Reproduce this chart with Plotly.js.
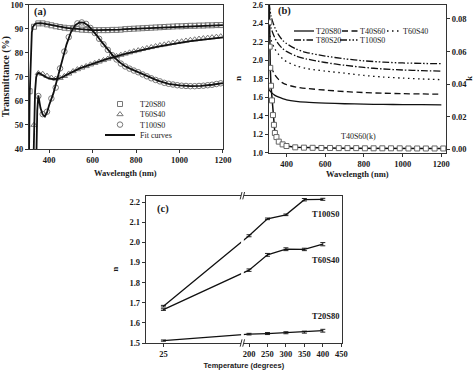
<!DOCTYPE html>
<html><head><meta charset="utf-8">
<script src="https://cdn.plot.ly/plotly-3.0.1.min.js"></script>
<style>html,body{margin:0;padding:0;background:#fff}#chart{width:474px;height:370px}</style>
</head><body><div id="chart"></div>
<script>
// ---------- Panel (a): transmittance ----------
const wlMarkers = [310,330,350,370,390,410,430,450,470,490,510,530,550,570,590,610,630,650,670,690,710,730,750,770,790,810,830,850,870,890,910,930,950,970,990,1010,1030,1050,1070,1090,1110,1130,1150,1170,1190];
const markT20S80 = [64,90.8,92.2,92.2,91.8,91.4,91.0,90.7,90.4,90.2,90.0,89.8,89.6,89.5,89.4,89.4,89.4,89.4,89.4,89.5,89.5,89.6,89.8,89.9,90.0,90.1,90.2,90.3,90.4,90.5,90.6,90.7,90.8,90.9,91.0,91.0,91.1,91.2,91.2,91.3,91.3,91.4,91.4,91.5,91.5];
const markT60S40 = [null,50,71.5,71.2,70.4,69.6,69.2,69.5,70.3,71.3,72.3,73.1,73.8,74.4,75.1,75.7,76.3,76.9,77.5,78.1,78.6,79.1,79.6,80.1,80.6,81.0,81.5,81.9,82.3,82.7,83.1,83.4,83.8,84.1,84.4,84.7,85.0,85.3,85.5,85.8,86.0,86.2,86.4,86.6,86.8];
const markT100S0 = [null,null,62,54.5,55.5,61,65.5,73.5,80.5,86.5,90.3,92.2,92.6,92.0,90.3,88.2,85.8,83.5,81.2,79.0,77.2,75.5,74.3,73.4,72.6,71.9,71.0,70.2,69.4,68.7,68.1,67.5,67.1,66.8,66.5,66.3,66.2,66.1,66.1,66.2,66.3,66.5,66.7,67.0,67.3];

const fitWl = [300,305,310,315,320,325,330,335,340,345,350,355,360,370,380,390,400,420,440,460,480,500,520,540,560,580,600,620,640,660,680,700,725,750,775,800,850,900,950,1000,1050,1100,1150,1200];
const fitT20S80 = [0,20,62,82,88.5,90.8,91.6,92.0,92.2,92.3,92.3,92.3,92.3,92.2,92.0,91.8,91.6,91.2,90.9,90.6,90.3,90.1,89.9,89.7,89.6,89.5,89.4,89.4,89.4,89.4,89.5,89.5,89.6,89.8,89.9,90.0,90.3,90.5,90.8,91.0,91.2,91.3,91.4,91.5];
const fitT60S40 = [0,0,0,0,5,22,48,64,69.8,71.3,71.7,71.6,71.3,70.7,70.1,69.6,69.3,69.0,69.2,69.8,70.8,71.8,72.7,73.5,74.1,74.8,75.4,76.0,76.6,77.2,77.8,78.3,78.9,79.5,80.1,80.6,81.6,82.5,83.4,84.1,84.8,85.4,85.9,86.4];
const fitT100S0 = [0,0,0,0,0,0,0,8,35,56,62.3,59.5,57,54.3,53.5,55.2,58.3,63.3,69.8,77.0,83.5,88.5,91.5,92.6,92.5,91.3,89.4,87.1,84.7,82.4,80.1,78.1,76.0,74.4,73.3,72.3,70.2,68.4,67.1,66.4,66.1,66.2,66.7,67.4];
const ticksA_x = [400,600,800,1000,1200];
const ticksA_y = [40,50,60,70,80,90,100];

// ---------- Panel (b): n and k ----------
const nWl = [309,320,340,360,380,400,450,500,600,700,800,900,1000,1100,1200];
const nT20S80 = [1.685,1.655,1.62,1.60,1.585,1.572,1.555,1.546,1.536,1.529,1.525,1.522,1.520,1.519,1.518];
const nT40S60 = [null,1.93,1.84,1.79,1.755,1.735,1.71,1.695,1.677,1.661,1.650,1.643,1.638,1.635,1.632];
const nT60S40 = [2.32,2.22,2.12,2.06,2.015,1.985,1.94,1.912,1.882,1.86,1.835,1.818,1.806,1.797,1.79];
const nT80S20 = [2.45,2.35,2.24,2.17,2.125,2.095,2.045,2.015,1.975,1.945,1.922,1.905,1.894,1.887,1.882];
const nT100S0 = [2.62,2.48,2.35,2.27,2.215,2.18,2.12,2.085,2.045,2.015,1.993,1.979,1.970,1.965,1.962];

const kWl = [308,311,313,316,320,325,330,335,340,348,360,380,400,445,490,535,580,625,670,715,760,805,850,895,940,985,1030,1075,1120,1165,1210];
const kT40S60 = [0.12,0.078,0.063,0.050,0.039,0.030,0.021,0.015,0.010,0.0075,0.0047,0.0030,0.0020,0.0012,0.0010,0.0009,0.0008,0.0008,0.0007,0.0007,0.0007,0.0006,0.0006,0.0006,0.0006,0.0006,0.0005,0.0005,0.0005,0.0005,0.0005];
const ticksB_n = [1.0,1.2,1.4,1.6,1.8,2.0,2.2,2.4,2.6];
const ticksB_k = [0,0.02,0.04,0.06,0.08];

// ---------- Panel (c): n vs temperature ----------
const temps = [25,200,250,300,350,400];
const tempTicks = [25,200,250,300,350,400,450];
const cT100S0 = [1.683,2.033,2.117,2.137,2.212,2.214];
const cT60S40 = [1.666,1.862,1.938,1.966,1.965,1.991];
const cT20S80 = [1.512,1.544,1.547,1.551,1.554,1.561];
const eT100S0 = [0.004,0.005,0.004,0.004,0.006,0.005];
const eT60S40 = [0.004,0.006,0.007,0.007,0.006,0.008];
const eT20S80 = [0.003,0.004,0.005,0.005,0.005,0.007];
const ticksC_n = [1.5,1.6,1.7,1.8,1.9,2.0,2.1,2.2];

// broken temperature axis: values below the break are shifted left
const breakAt = 181;
const brokenShift = 57;
function toBroken(t){ return t < breakAt ? t - brokenShift : t; }

// ---------- helpers ----------
const px = v => v / 474;
const py = v => 1 - v / 370;
const serif = 'Liberation Serif';
const ink = '#1a1a1a';
const lineCol = '#333';
function ax(extra){
  return Object.assign({showline:true, mirror:true, linecolor:lineCol, linewidth:1,
    ticks:'outside', ticklen:3, tickwidth:1, tickcolor:lineCol, showgrid:false, zeroline:false,
    ticklabeloverflow:'allow',
    tickfont:{family:serif, size:8.5, weight:'bold', color:ink}}, extra);
}
const titleFont = (s) => ({family:serif, size:s, weight:'bold', color:ink});

const traces = [];
// (a) data markers
traces.push({x:wlMarkers, y:markT20S80, type:'scatter', mode:'markers', name:'T20S80', legend:'legend',
  marker:{symbol:'square-open', size:5, color:'#777', line:{width:1}}, xaxis:'x', yaxis:'y'});
traces.push({x:wlMarkers, y:markT60S40, type:'scatter', mode:'markers', name:'T60S40', legend:'legend2',
  marker:{symbol:'triangle-up-open', size:5.5, color:'#777', line:{width:1}}, xaxis:'x', yaxis:'y'});
traces.push({x:wlMarkers, y:markT100S0, type:'scatter', mode:'markers', name:'T100S0', legend:'legend3',
  marker:{symbol:'circle-open', size:5.5, color:'#777', line:{width:1}}, xaxis:'x', yaxis:'y'});
// (a) fit curves
[fitT20S80, fitT60S40, fitT100S0].forEach((arr,i)=>{
  traces.push({x:fitWl, y:arr, type:'scatter', mode:'lines', name:'Fit curves', legend:'legend4',
    legendgroup:'fit', showlegend:i===0, line:{color:'#111', width:1.8}, xaxis:'x', yaxis:'y'});
});
// (b) refractive index curves
const nSeries = [
  ['T20S80', nT20S80, 'solid'],
  ['T40S60', nT40S60, '6px,3.5px'],
  ['T60S40', nT60S40, '1.5px,3.5px'],
  ['T80S20', nT80S20, '7px,2px,1.5px,2px'],
  ['T100S0', nT100S0, '7px,2px,1.5px,2px,1.5px,2px']
];
nSeries.forEach(s=>{
  traces.push({x:nWl, y:s[1], type:'scatter', mode:'lines', name:s[0], showlegend:false,
    line:{color:'#111', width:1.3, dash:s[2], shape:'spline', smoothing:0.8}, xaxis:'x2', yaxis:'y2'});
});
// (b) extinction coefficient
traces.push({x:kWl, y:kT40S60, type:'scatter', mode:'lines+markers', name:'T40S60(k)', showlegend:false,
  line:{color:'#111', width:1.5}, marker:{symbol:'square', size:5, color:'#fff', line:{color:'#666', width:1}},
  xaxis:'x2', yaxis:'y3'});
// (c)
[[cT100S0,eT100S0,'T100S0'],[cT60S40,eT60S40,'T60S40'],[cT20S80,eT20S80,'T20S80']].forEach(s=>{
  traces.push({x:temps.map(toBroken), y:s[0], type:'scatter', mode:'lines', name:s[2], showlegend:false,
    line:{color:'#111', width:1.3},
    error_y:{type:'data', array:s[1], visible:true, color:'#222', thickness:1, width:2.5},
    xaxis:'x3', yaxis:'y4'});
});

function oneLegend(yPix){
  return {x:px(100), y:py(yPix), xanchor:'left', yanchor:'middle', bgcolor:'rgba(0,0,0,0)',
    borderwidth:0, itemwidth:30, font:{family:serif, size:8, color:ink}, tracegroupgap:0};
}

const legendShapes = [
  [294,314,31,'solid'], [342,358,31,'6px,3.5px'], [387,400,31,'1.5px,3.5px'],
  [294,313,40,'7px,2px,1.5px,2px'], [340,357.5,40,'7px,2px,1.5px,2px,1.5px,2px']
].map(d=>({type:'line', xref:'paper', yref:'paper', x0:px(d[0]), x1:px(d[1]), y0:py(d[2]), y1:py(d[2]),
  line:{color:'#111', width:1.3, dash:d[3]}}));

const legendTexts = [
  ['T20S80',315,31],['T40S60',358.5,31],['T60S40',402,31],['T80S20',315,40],['T100S0',358.5,40]
].map(d=>({text:d[0], xref:'paper', yref:'paper', x:px(d[1]), y:py(d[2]), xanchor:'left', yanchor:'middle',
  showarrow:false, font:{family:serif, size:8, color:ink}, borderpad:0}));

// broken-axis marks for (c)
const breakShapes = [
  {type:'rect', xref:'x3', yref:'y4 domain', x0:breakAt-2.5, x1:breakAt+5, y0:-0.02, y1:1.02,
    fillcolor:'#fff', line:{width:0}, layer:'above'},
  {type:'line', xref:'x3', yref:'y4 domain', x0:breakAt-5, x1:breakAt, y0:-0.025, y1:0.025, line:{color:lineCol, width:1}},
  {type:'line', xref:'x3', yref:'y4 domain', x0:breakAt+2, x1:breakAt+7, y0:-0.025, y1:0.025, line:{color:lineCol, width:1}},
  {type:'line', xref:'x3', yref:'y4 domain', x0:breakAt-5, x1:breakAt, y0:0.975, y1:1.025, line:{color:lineCol, width:1}},
  {type:'line', xref:'x3', yref:'y4 domain', x0:breakAt+2, x1:breakAt+7, y0:0.975, y1:1.025, line:{color:lineCol, width:1}}
];

const layout = {
  width:474, height:370, margin:{l:0,r:0,t:0,b:0, autoexpand:false}, paper_bgcolor:'#fff', plot_bgcolor:'#fff',
  font:{family:serif, size:9, color:ink}, showlegend:true,
  xaxis: ax({domain:[px(29),px(223)], anchor:'y', range:[307,1200.5], tickmode:'array', tickvals:ticksA_x}),
  yaxis: ax({domain:[py(149),py(4.5)], anchor:'x', range:[40,100.05], tickmode:'array', tickvals:ticksA_y,
    title:{text:'Transmittance (%)', font:titleFont(10)}}),
  xaxis2: ax({domain:[px(268.7),px(446)], anchor:'y2', range:[308,1224], tickmode:'array', tickvals:ticksA_x}),
  yaxis2: ax({domain:[py(152.7),py(4.5)], anchor:'x2', range:[1.0,2.602], tickmode:'array', tickvals:ticksB_n, tickformat:'.1f',
    title:{text:'n', font:titleFont(9)}}),
  yaxis3: ax({overlaying:'y2', side:'right', anchor:'x2', mirror:false, range:[-0.0021,0.0889],
    tickmode:'array', tickvals:ticksB_k, tickformat:'.2f', title:{text:'k', font:titleFont(9)}}),
  xaxis3: ax({domain:[px(145.7),px(342)], anchor:'y4', range:[-80,452], tickmode:'array',
    tickvals:tempTicks.map(toBroken), ticktext:tempTicks.map(String),
    automargin:true, title:{text:'Temperature (degrees)', font:{family:'Liberation Sans', size:7.5, weight:'bold', color:ink}, standoff:13}}),
  yaxis4: ax({domain:[py(343),py(195.7)], anchor:'x3', range:[1.5,2.232], tickmode:'array', tickvals:ticksC_n, tickformat:'.1f',
    title:{text:'n', font:titleFont(9)}}),
  legend: oneLegend(104), legend2: oneLegend(114.3), legend3: oneLegend(124.6), legend4: oneLegend(135),
  shapes: legendShapes.concat(breakShapes),
  annotations: [
    {text:'Wavelength (nm)', xref:'paper', yref:'paper', x:px(126), y:py(172.5), xanchor:'center', yanchor:'middle', showarrow:false, font:titleFont(8.5)},
    {text:'Wavelength (nm)', xref:'paper', yref:'paper', x:px(357.5), y:py(174), xanchor:'center', yanchor:'middle', showarrow:false, font:titleFont(8.5)},
    {text:'(a)', xref:'paper', yref:'paper', x:px(31.5), y:py(12), xanchor:'left', yanchor:'middle', showarrow:false, font:titleFont(10.5)},
    {text:'(b)', xref:'paper', yref:'paper', x:px(276), y:py(11), xanchor:'left', yanchor:'middle', showarrow:false, font:titleFont(10.5)},
    {text:'(c)', xref:'paper', yref:'paper', x:px(154.5), y:py(209), xanchor:'left', yanchor:'middle', showarrow:false, font:titleFont(10.5)},
    {text:'T40S60(k)', xref:'paper', yref:'paper', x:px(358.5), y:py(136.5), xanchor:'center', yanchor:'middle', showarrow:false, font:{family:serif, size:8, color:ink}},
    {text:'T100S0', xref:'paper', yref:'paper', x:px(325.5), y:py(214.3), xanchor:'center', yanchor:'middle', showarrow:false, font:titleFont(8.5)},
    {text:'T60S40', xref:'paper', yref:'paper', x:px(325.5), y:py(260), xanchor:'center', yanchor:'middle', showarrow:false, font:titleFont(8.5)},
    {text:'T20S80', xref:'paper', yref:'paper', x:px(325.5), y:py(316), xanchor:'center', yanchor:'middle', showarrow:false, font:titleFont(8.5)}
  ].concat(legendTexts)
};

Plotly.newPlot('chart', traces, layout, {staticPlot:true, displayModeBar:false});
</script>
</body></html>
